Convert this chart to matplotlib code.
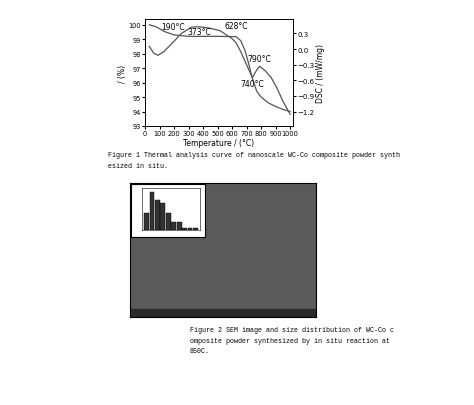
import numpy as np
import matplotlib
matplotlib.use("Agg")
import matplotlib.pyplot as plt

# TG curve (mass %)
tg_t = [30, 80, 130, 200, 300, 400, 500, 628, 660, 690, 720, 740, 770, 800, 850, 900, 950, 1000]
tg_m = [100, 99.85, 99.55, 99.3, 99.2, 99.2, 99.2, 99.18, 98.9, 98.2, 97.1, 96.3, 95.4, 95.0, 94.6, 94.35, 94.15, 94.0]
# DSC curve (mW/mg)
dsc_t = [30, 60, 90, 130, 190, 250, 320, 373, 450, 520, 600, 628, 660, 700, 740, 770, 790, 830, 870, 910, 950, 990, 1000]
dsc_v = [0.05, -0.08, -0.12, -0.05, 0.12, 0.3, 0.42, 0.43, 0.4, 0.35, 0.2, 0.12, -0.05, -0.3, -0.55, -0.4, -0.33, -0.42, -0.55, -0.75, -1.0, -1.2, -1.25]
# inset size distribution (relative)
hist_h = [0.45, 1.0, 0.78, 0.72, 0.45, 0.2, 0.2, 0.05, 0.05, 0.05]

W, H = 474, 406
fig = plt.figure(figsize=(W / 100, H / 100), dpi=100)

def box(l, t, r, b):
    return [l / W, 1 - b / H, (r - l) / W, (b - t) / H]

ax = fig.add_axes(box(145, 20, 293, 127))
ax.plot(tg_t, tg_m, color="#555555", lw=0.9)
ax.set_xlim(0, 1020)
ax.set_ylim(93, 100.4)
ax.set_xticks(range(0, 1001, 100))
ax.set_yticks(range(93, 101))
ax.tick_params(labelsize=4.8, length=2, pad=1)
ax.set_xlabel("Temperature / (\u00b0C)", fontsize=5.5, labelpad=1)
ax.set_ylabel("/ (%)", fontsize=5.5, labelpad=1)
ax2 = ax.twinx()
ax2.plot(dsc_t, dsc_v, color="#555555", lw=0.9)
ax2.set_ylim(-1.478, 0.578)
ax2.set_yticks([-1.2, -0.9, -0.6, -0.3, 0.0, 0.3])
ax2.tick_params(labelsize=5, length=2, pad=1)
ax2.set_ylabel("DSC / (mW/mg)", fontsize=5.5, labelpad=1)
for a in (ax, ax2):
    for s in a.spines.values():
        s.set_linewidth(0.6)
ann = [(190, 0.43, "190\u00b0C"), (373, 0.33, "373\u00b0C"), (628, 0.46, "628\u00b0C"),
       (790, -0.18, "790\u00b0C"), (740, -0.67, "740\u00b0C")]
for x, y, s in ann:
    ax2.text(x, y, s, fontsize=5.5, ha="center", va="center")

cap = dict(family="Liberation Mono", fontsize=4.75, va="top")
fig.text(108 / W, 1 - 152 / H,
         "Figure 1 Thermal analysis curve of nanoscale WC-Co composite powder synth\nesized in situ.",
         linespacing=1.75, **cap)

# SEM image placeholder
sem = fig.add_axes(box(130, 184, 316, 318))
sem.set_facecolor("#5a5a5a")
sem.set_xticks([]); sem.set_yticks([])
sem.add_patch(plt.Rectangle((0, 0), 1, 0.06, color="#2a2a2a", transform=sem.transAxes))
ins = fig.add_axes(box(131, 185, 205, 238))
ins.set_facecolor("white")
ins.set_xticks([]); ins.set_yticks([])
ins2 = fig.add_axes(box(142, 189, 200, 231))
ins2.bar(range(len(hist_h)), hist_h, width=0.85, color="#333333", edgecolor="black", lw=0.3)
ins2.set_xlim(-0.8, len(hist_h) - 0.2)
ins2.set_ylim(0, 1.1)
ins2.set_xticks([]); ins2.set_yticks([])
for s in ins2.spines.values():
    s.set_linewidth(0.4)

fig.text(190 / W, 1 - 327 / H,
         "Figure 2 SEM image and size distribution of WC-Co c\nomposite powder synthesized by in situ reaction at\n850C.",
         linespacing=1.75, **cap)

fig.savefig("out.png", dpi=100)
